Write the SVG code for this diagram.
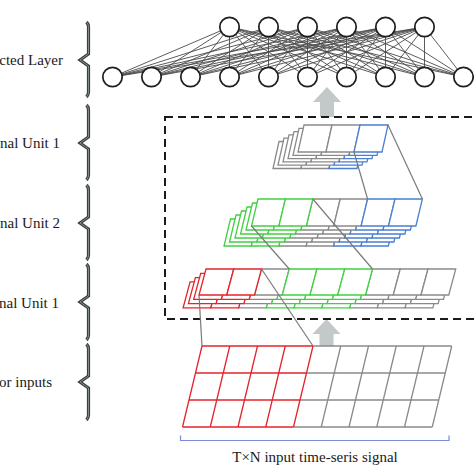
<svg xmlns="http://www.w3.org/2000/svg" xmlns:xlink="http://www.w3.org/1999/xlink" width="474" height="474" viewBox="0 0 474 474">
<style>
.lbl{font-family:"Liberation Serif","Times New Roman",serif;font-size:15px;fill:#1a1a1a}
.br{fill:none;stroke:#3a4040;stroke-width:3.2;stroke-linejoin:miter}
.bri{fill:none;stroke:#8a9292;stroke-width:0.9}
.nd{fill:#fff;stroke:#1e1e1e;stroke-width:1.7}
.fc{fill:none;stroke:#4a4a4a;stroke-width:0.9}
.g{fill:#fff;stroke:#8a8a8a;stroke-width:1.3}
.r{fill:#fff;stroke:#e3242b;stroke-width:1.3}
.gr{fill:#fff;stroke:#42d042;stroke-width:1.3}
.b{fill:#fff;stroke:#4a7fd4;stroke-width:1.3}
.gl{fill:none;stroke:#8a8a8a;stroke-width:1.3}
.rl{fill:none;stroke:#e3242b;stroke-width:1.3}
.cn{fill:none;stroke:#7a7a7a;stroke-width:1.2}
.ar{fill:#c3c8c8}
</style>
<defs>
<g id="L3">
<polygon class="g" points="0,0 28,0 22,27 -6,27"/>
<polygon class="g" points="28,0 56,0 50,27 22,27"/>
<polygon class="b" points="56,0 84,0 78,27 50,27"/>
</g>
<g id="L2">
<polygon class="g" points="54.8,0 82.2,0 75.7,27 48.3,27"/>
<polygon class="g" points="82.2,0 109.6,0 103.1,27 75.7,27"/>
<polygon class="gr" points="0,0 27.4,0 20.9,27 -6.5,27"/>
<polygon class="gr" points="27.4,0 54.8,0 48.3,27 20.9,27"/>
<polygon class="b" points="109.6,0 137,0 130.5,27 103.1,27"/>
<polygon class="b" points="137,0 164.4,0 157.9,27 130.5,27"/>
</g>
<g id="L1">
<polygon class="g" points="55.5,0 83.25,0 76.25,26 48.5,26"/>
<polygon class="g" points="166.5,0 194.25,0 187.25,26 159.5,26"/>
<polygon class="g" points="194.25,0 222,0 215,26 187.25,26"/>
<polygon class="g" points="222,0 249.75,0 242.75,26 215,26"/>
<polygon class="r" points="0,0 27.75,0 20.75,26 -7,26"/>
<polygon class="r" points="27.75,0 55.5,0 48.5,26 20.75,26"/>
<polygon class="gr" points="83.25,0 111,0 104,26 76.25,26"/>
<polygon class="gr" points="111,0 138.75,0 131.75,26 104,26"/>
<polygon class="gr" points="138.75,0 166.5,0 159.5,26 131.75,26"/>
</g>
</defs>

<g id="labels">
<text class="lbl" x="63" y="65" text-anchor="end">cted Layer</text>
<text class="lbl" x="60" y="148" text-anchor="end">nal Unit 1</text>
<text class="lbl" x="60" y="228" text-anchor="end">nal Unit 2</text>
<text class="lbl" x="59" y="308" text-anchor="end">nal Unit 1</text>
<text class="lbl" x="52" y="387" text-anchor="end">or inputs</text>
</g>

<g id="braces">
<path class="br" d="M86.5,22 Q88.5,24 88.5,27 V54 L80,60 L88.5,66 V92 Q88.5,95 86.5,97"/>
<path class="br" d="M86.5,105 Q88.5,107 88.5,110 V137 L80,143 L88.5,149 V175 Q88.5,178 86.5,180"/>
<path class="br" d="M86.5,185 Q88.5,187 88.5,190 V217 L80,223 L88.5,229 V255 Q88.5,258 86.5,260"/>
<path class="br" d="M86.5,264 Q88.5,266 88.5,269 V296 L80,302 L88.5,308 V335 Q88.5,338 86.5,340"/>
<path class="br" d="M86.5,344 Q88.5,346 88.5,349 V376 L80,382 L88.5,388 V415 Q88.5,418 86.5,420"/>
<path class="bri" d="M86.5,22 Q88.5,24 88.5,27 V54 L80,60 L88.5,66 V92 Q88.5,95 86.5,97"/>
<path class="bri" d="M86.5,105 Q88.5,107 88.5,110 V137 L80,143 L88.5,149 V175 Q88.5,178 86.5,180"/>
<path class="bri" d="M86.5,185 Q88.5,187 88.5,190 V217 L80,223 L88.5,229 V255 Q88.5,258 86.5,260"/>
<path class="bri" d="M86.5,264 Q88.5,266 88.5,269 V296 L80,302 L88.5,308 V335 Q88.5,338 86.5,340"/>
<path class="bri" d="M86.5,344 Q88.5,346 88.5,349 V376 L80,382 L88.5,388 V415 Q88.5,418 86.5,420"/>
</g>

<g id="fc-connectors">
<path class="fc" d="M229.5,27L112.5,77M229.5,27L151.5,77M229.5,27L190.5,77M229.5,27L229.5,77M229.5,27L268.5,77M229.5,27L307.5,77M229.5,27L346.5,77M229.5,27L385.5,77M229.5,27L424.5,77M229.5,27L463.5,77
M268.5,27L112.5,77M268.5,27L151.5,77M268.5,27L190.5,77M268.5,27L229.5,77M268.5,27L268.5,77M268.5,27L307.5,77M268.5,27L346.5,77M268.5,27L385.5,77M268.5,27L424.5,77M268.5,27L463.5,77
M307.5,27L112.5,77M307.5,27L151.5,77M307.5,27L190.5,77M307.5,27L229.5,77M307.5,27L268.5,77M307.5,27L307.5,77M307.5,27L346.5,77M307.5,27L385.5,77M307.5,27L424.5,77M307.5,27L463.5,77
M346.5,27L112.5,77M346.5,27L151.5,77M346.5,27L190.5,77M346.5,27L229.5,77M346.5,27L268.5,77M346.5,27L307.5,77M346.5,27L346.5,77M346.5,27L385.5,77M346.5,27L424.5,77M346.5,27L463.5,77
M385.5,27L112.5,77M385.5,27L151.5,77M385.5,27L190.5,77M385.5,27L229.5,77M385.5,27L268.5,77M385.5,27L307.5,77M385.5,27L346.5,77M385.5,27L385.5,77M385.5,27L424.5,77M385.5,27L463.5,77
M424.5,27L112.5,77M424.5,27L151.5,77M424.5,27L190.5,77M424.5,27L229.5,77M424.5,27L268.5,77M424.5,27L307.5,77M424.5,27L346.5,77M424.5,27L385.5,77M424.5,27L424.5,77M424.5,27L463.5,77"/>
</g>

<g id="fc-top">
<circle class="nd" cx="229.5" cy="27" r="9.7"/>
<circle class="nd" cx="268.5" cy="27" r="9.7"/>
<circle class="nd" cx="307.5" cy="27" r="9.7"/>
<circle class="nd" cx="346.5" cy="27" r="9.7"/>
<circle class="nd" cx="385.5" cy="27" r="9.7"/>
<circle class="nd" cx="424.5" cy="27" r="9.7"/>
</g>
<g id="fc-bottom">
<circle class="nd" cx="112.5" cy="77" r="9.7"/>
<circle class="nd" cx="151.5" cy="77" r="9.7"/>
<circle class="nd" cx="190.5" cy="77" r="9.7"/>
<circle class="nd" cx="229.5" cy="77" r="9.7"/>
<circle class="nd" cx="268.5" cy="77" r="9.7"/>
<circle class="nd" cx="307.5" cy="77" r="9.7"/>
<circle class="nd" cx="346.5" cy="77" r="9.7"/>
<circle class="nd" cx="385.5" cy="77" r="9.7"/>
<circle class="nd" cx="424.5" cy="77" r="9.7"/>
<circle class="nd" cx="463.5" cy="77" r="9.7"/>
</g>

<g id="arrows">
<polygon class="ar" points="327,87 341,102 334,102 334,117 320,117 320,102 313,102"/>
<polygon class="ar" points="326.5,319 340.5,334 333.5,334 333.5,346 319.5,346 319.5,334 312.5,334"/>
</g>

<rect id="conv-box" x="165" y="117" width="320" height="202" fill="none" stroke="#1a1a1a" stroke-width="2" stroke-dasharray="8 5"/>

<g id="conv-unit1-top">
<use xlink:href="#L3" x="279" y="141.5"/>
<use xlink:href="#L3" x="284" y="138.2"/>
<use xlink:href="#L3" x="289" y="134.9"/>
<use xlink:href="#L3" x="294" y="131.6"/>
<use xlink:href="#L3" x="299" y="128.3"/>
<use xlink:href="#L3" x="304" y="125"/>
</g>

<g id="conv-unit2">
<use xlink:href="#L2" x="230.5" y="219"/>
<use xlink:href="#L2" x="236" y="215"/>
<use xlink:href="#L2" x="241.5" y="211"/>
<use xlink:href="#L2" x="247" y="207"/>
<use xlink:href="#L2" x="252.5" y="203"/>
<use xlink:href="#L2" x="258" y="199"/>
</g>

<g id="conv-unit1-bottom">
<use xlink:href="#L1" x="190.1" y="281.9"/>
<use xlink:href="#L1" x="195.4" y="277.6"/>
<use xlink:href="#L1" x="200.7" y="273.3"/>
<use xlink:href="#L1" x="206" y="269"/>
</g>

<g id="input-grid">
<path class="gl" d="M313,346H451.75M306.5,373H445.25M300,400H438.75M293.5,427H432.25
M340.75,346L321.25,427M368.5,346L349,427M396.25,346L376.75,427M424,346L404.5,427M451.75,346L432.25,427"/>
<path class="rl" d="M202,346H313M195.5,373H306.5M189,400H300M182.5,427H293.5
M202,346L182.5,427M229.75,346L210.25,427M257.5,346L238,427M285.25,346L265.75,427M313,346L293.5,427"/>
</g>

<g id="connectors">
<path class="cn" d="M199,295L202,346"/>
<path class="cn" d="M261.5,269L313,346"/>
<path class="cn" d="M251.5,226L289.25,269"/>
<path class="cn" d="M312.8,199L372.5,269"/>
<path class="cn" d="M354,152L367.6,199"/>
<path class="cn" d="M388,125L422.4,199"/>
</g>

<g id="signal-bracket">
<path d="M180.5,435.5V440.5H449V435.5" fill="none" stroke="#7b8bd8" stroke-width="1.2"/>
<text class="lbl" x="315" y="462" text-anchor="middle">T×N input time-seris signal</text>
</g>
</svg>
